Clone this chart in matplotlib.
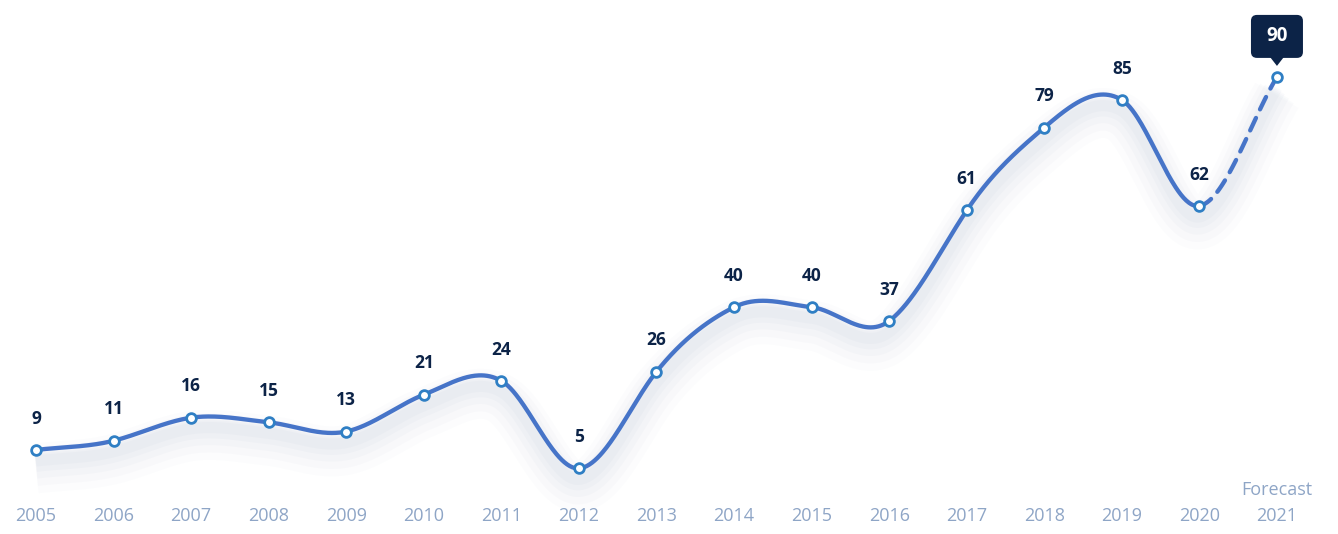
import numpy as np
import matplotlib
matplotlib.use("Agg")
import matplotlib.pyplot as plt
from matplotlib.patches import FancyBboxPatch, Polygon
from matplotlib.transforms import IdentityTransform

years = [2005, 2006, 2007, 2008, 2009, 2010, 2011, 2012, 2013, 2014, 2015, 2016, 2017, 2018, 2019, 2020, 2021]
values = [9, 11, 16, 15, 13, 21, 24, 5, 26, 40, 40, 37, 61, 79, 85, 62, 90]
forecast_label = "Forecast"

LINE = "#4674c8"
MARK = "#2f7fc4"
NAVY = "#0c2347"
GREY = "#8ea5c6"
FONT = "Open Sans"

W, H, DPI = 1338, 534, 100
fig = plt.figure(figsize=(W / DPI, H / DPI), dpi=DPI)
ax = fig.add_axes([0, 0, 1, 1])
ax.set_xlim(2004.536, 2021.787)
ax.set_ylim(-9.25, 106.7)
ax.axis("off")

x = np.array(years, dtype=float)
y = np.array(values, dtype=float)
n = len(x)
# tangents (scaled Catmull-Rom)
m = np.zeros(n)
for i in range(n):
    if i == 0:
        m[i] = (y[1] - y[0])
    elif i == n - 1:
        m[i] = (y[-1] - y[-2])
    else:
        m[i] = 1.2 * (y[i + 1] - y[i - 1]) / 2.0

segs_x, segs_y = [], []
for i in range(n - 1):
    t = np.linspace(0, 1, 60)
    h00 = 2 * t**3 - 3 * t**2 + 1
    h10 = t**3 - 2 * t**2 + t
    h01 = -2 * t**3 + 3 * t**2
    h11 = t**3 - t**2
    yy = h00 * y[i] + h10 * m[i] + h01 * y[i + 1] + h11 * m[i + 1]
    xx = x[i] + t * (x[i + 1] - x[i])
    segs_x.append(xx)
    segs_y.append(yy)

solid_x = np.concatenate(segs_x[:-1])
solid_y = np.concatenate(segs_y[:-1])
dash_x, dash_y = segs_x[-1], segs_y[-1]
all_x = np.concatenate(segs_x)
all_y = np.concatenate(segs_y)

# soft shadow
for w, a, off in [(36, 0.02, 4.0), (28, 0.03, 3.6), (20, 0.035, 3.2), (13, 0.04, 2.8), (8, 0.04, 2.4)]:
    ax.plot(all_x, all_y - off, color="#7f93b8", lw=w, alpha=a,
            solid_capstyle="butt", zorder=1)

ax.plot(solid_x, solid_y, color=LINE, lw=3.1, solid_capstyle="round", zorder=3)
ax.plot(dash_x, dash_y, color=LINE, lw=3.1, ls=(0, (3.2, 2.2)),
        dash_capstyle="round", zorder=3)
ax.plot(x, y, "o", ms=7, mfc="white", mec=MARK, mew=2, zorder=4)

for xi, yi in zip(years[:-1], values[:-1]):
    ax.annotate(str(yi), (xi, yi), xytext=(0, 22.5), textcoords="offset points",
                ha="center", va="center", fontsize=12.5, fontweight="bold",
                color=NAVY, family=FONT, zorder=5)

for xi in years:
    ax.text(xi, -5.3, str(xi), ha="center", va="center", fontsize=13,
            color=GREY, family=FONT)
ax.text(years[-1], 0.3, forecast_label, ha="center", va="center",
        fontsize=13, color=GREY, family=FONT)

# tooltip for last point
fig.canvas.draw()
px, py = ax.transData.transform((years[-1], values[-1]))
bw, bh = 52, 43
bx0 = px - bw / 2
by0 = py + 19
box = FancyBboxPatch((bx0 + 6, by0 + 6), bw - 12, bh - 12,
                     boxstyle="round,pad=6", transform=IdentityTransform(),
                     fc=NAVY, ec="none", zorder=6)
fig.patches.append(box)
tri = Polygon([[px - 7, by0 + 1], [px + 7, by0 + 1], [px, by0 - 8]], closed=True,
              transform=IdentityTransform(), fc=NAVY, ec="none", zorder=6)
fig.patches.append(tri)
fig.text(px / W, (by0 + bh / 2) / H, str(values[-1]), ha="center", va="center",
         fontsize=13.5, fontweight="bold", color="white", family=FONT, zorder=7)

fig.savefig("out.png", dpi=DPI)
